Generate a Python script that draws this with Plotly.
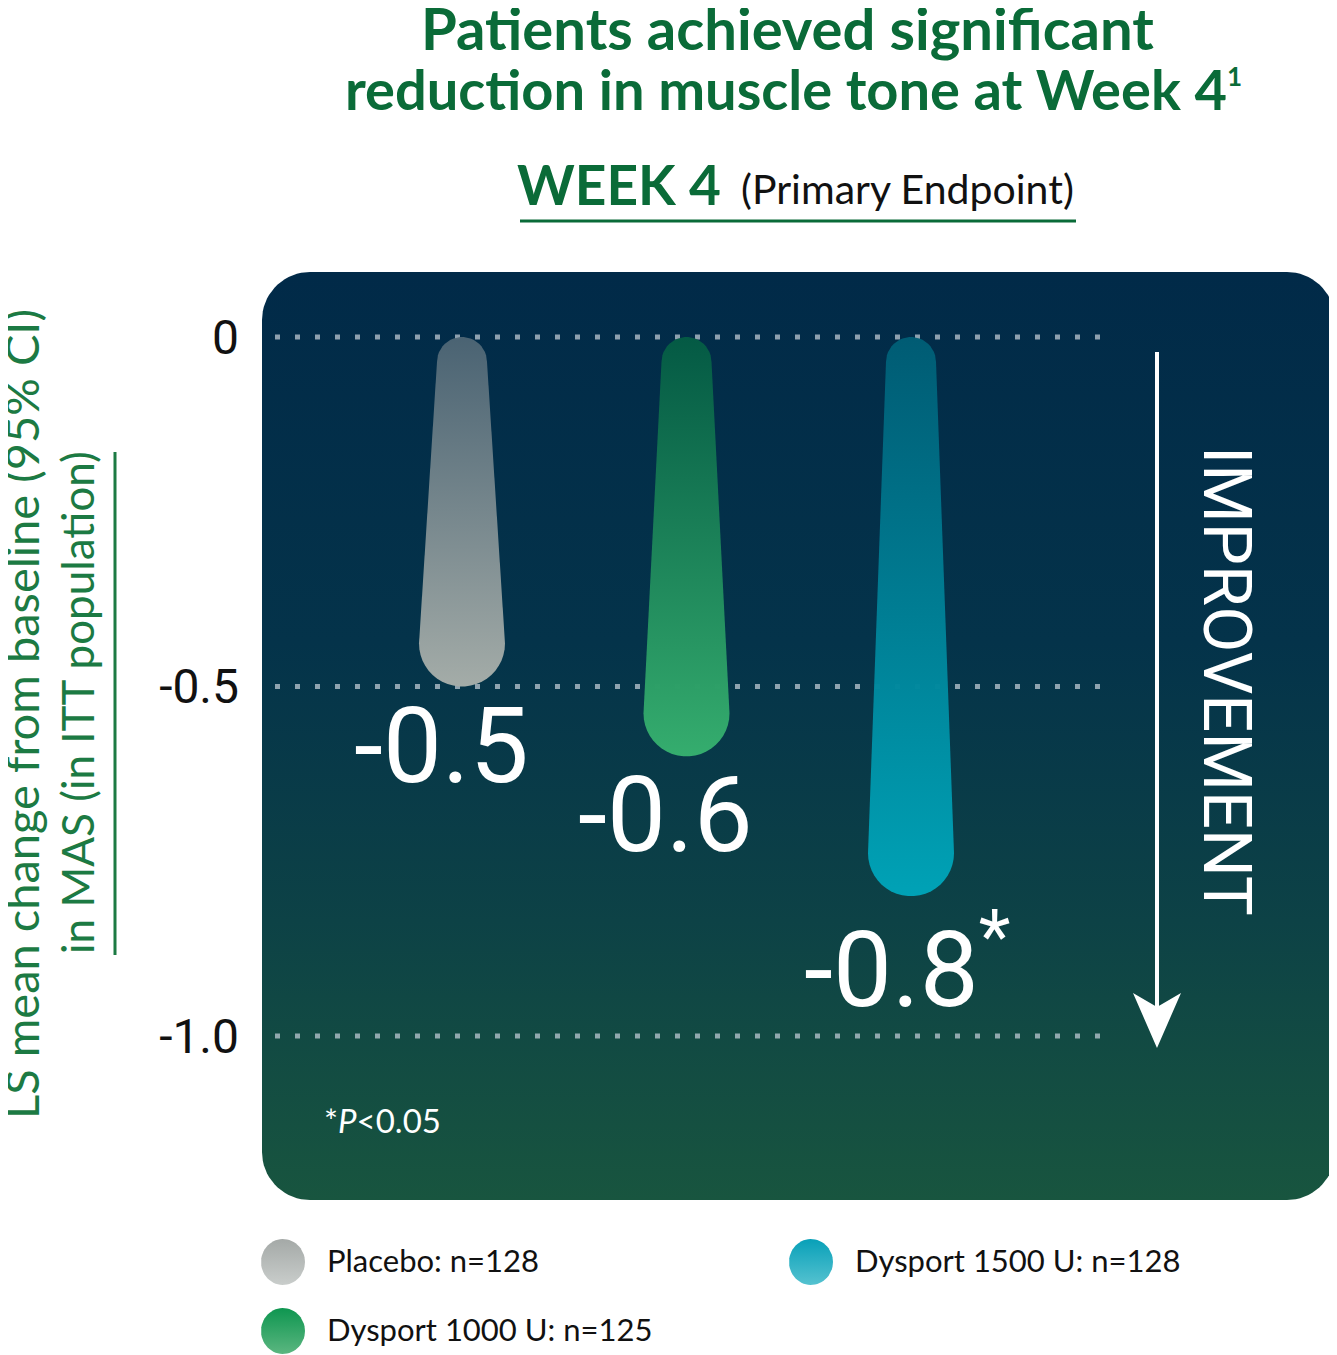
import numpy as np
import plotly.graph_objects as go

# data
groups = ["Placebo", "Dysport 1000 U", "Dysport 1500 U"]
n_patients = [128, 125, 128]
ls_mean_change = [-0.5, -0.6, -0.8]
significant = [False, False, True]
y_ticks = [0, -0.5, -1.0]
y_tick_labels = ["0", "-0.5", "-1.0"]

# styling
OFF = 8  # the page body margin; overlay axes use page pixels
W, H = 1337 - OFF, 1355 - OFF
GREEN = "#0a6b38"
AXIS_GREEN = "#1c7a43"
bar_top = ["rgba(78,102,117,0.95)", "rgba(4,92,68,0.95)", "rgba(0,94,118,0.95)"]
bar_bottom = ["#a4aca8", "#35ad6e", "#00a2b6"]
legend_top = ["#a4a9a7", "#0e9650", "#08a0b8"]
legend_bottom = ["#c9cdcb", "#5bb680", "#55c2d0"]
legend_pos = [(283, 1262), (283, 1331), (811, 1262)]

SANS = "Lato, Roboto, sans-serif"
NUM = "Roboto, Lato, sans-serif"

# where the panel sits on the page, and the y / x pixel scale
P_X0, P_X1, P_Y0, P_Y1 = 262, 1335, 272, 1200
ZERO_Y, PX_Y = 337, 699.0
FIRST_X, PX_X = 462, 224.5


def dx(p):
    return p / PX_X


def dy(p):
    return p / PX_Y


yr = [-(P_Y1 - ZERO_Y) / PX_Y, (ZERO_Y - P_Y0) / PX_Y]
xr = [(P_X0 - FIRST_X) / PX_X, (P_X1 - FIRST_X) / PX_X]


def rounded_rect(x0, x1, y0, y1, rx, ry, n=18):
    xs, ys = [], []
    for cx, cy, a0, a1 in [(x1 - rx, y1 - ry, 0, 90), (x0 + rx, y1 - ry, 90, 180),
                           (x0 + rx, y0 + ry, 180, 270), (x1 - rx, y0 + ry, 270, 360)]:
        t = np.radians(np.linspace(a0, a1, n))
        xs += list(cx + rx * np.cos(t))
        ys += list(cy + ry * np.sin(t))
    return xs + [xs[0]], ys + [ys[0]]


def bar_outline(i, v, n=24):
    # tapered drop: narrow round cap at 0, wide round cap at the value
    rtx, rty, rbx, rby = dx(25), dy(25), dx(43), dy(43)
    ct, cb = -rty, v + rby
    t1 = np.radians(np.linspace(180, 0, n))
    t2 = np.radians(np.linspace(0, -180, n))
    xs = list(i + rtx * np.cos(t1)) + list(i + rbx * np.cos(t2))
    ys = list(ct + rty * np.sin(t1)) + list(cb + rby * np.sin(t2))
    return xs + [xs[0]], ys + [ys[0]]


fig = go.Figure()

# dark panel behind the bars
px_, py_ = rounded_rect(xr[0], xr[1], yr[0], yr[1], dx(48), dy(48))
fig.add_trace(go.Scatter(
    x=px_, y=py_, mode="lines", fill="toself", line=dict(width=0),
    fillgradient=dict(type="vertical", colorscale=[[0, "#18553f"], [0.3, "#0d4246"],
                                                   [0.6, "#04334a"], [1, "#012a48"]]),
    hoverinfo="skip", showlegend=False))

# dotted reference lines
for t in y_ticks:
    fig.add_trace(go.Scatter(
        x=[dx(275 - FIRST_X), dx(1100 - FIRST_X)], y=[t, t], mode="lines",
        line=dict(color="rgba(190,200,210,0.75)", width=5, dash="5px,15px"),
        hoverinfo="skip", showlegend=False))

# bars
for i, (g, v) in enumerate(zip(groups, ls_mean_change)):
    bx, by = bar_outline(i, v)
    fig.add_trace(go.Scatter(
        x=bx, y=by, mode="lines", fill="toself", line=dict(width=0), name=g,
        fillgradient=dict(type="vertical", colorscale=[[0, bar_bottom[i]], [1, bar_top[i]]]),
        hoverinfo="skip", showlegend=False))

# legend spots, drawn on a page-pixel overlay
for i, g in enumerate(groups):
    cx, cy = legend_pos[i]
    t = np.radians(np.linspace(0, 360, 60))
    fig.add_trace(go.Scatter(
        x=cx + 22 * np.cos(t), y=cy + 23 * np.sin(t), mode="lines", fill="toself",
        line=dict(width=0), xaxis="x2", yaxis="y2",
        fillgradient=dict(type="vertical", colorscale=[[0, legend_bottom[i]], [1, legend_top[i]]]),
        hoverinfo="skip", showlegend=False))

ann = []


def page_text(text, x, y, size, color, family=SANS, **kw):
    d = dict(text=text, x=x, y=y, xref="x2", yref="y2", showarrow=False,
             font=dict(size=size, color=color, family=family))
    d.update(kw)
    ann.append(d)


# value labels under each bar
for i, v in enumerate(ls_mean_change):
    label = f"{v:.1f}" + ("<sup>*</sup>" if significant[i] else "")
    ann.append(dict(text=label, x=i, y=v, xref="x", yref="y", showarrow=False,
                    yanchor="top", yshift=4, xshift=-21 + (17 if significant[i] else 0),
                    font=dict(size=105, color="white", family=NUM)))

# legend text
for i, g in enumerate(groups):
    cx, cy = legend_pos[i]
    page_text(f"{g}: n={n_patients[i]}", cx + 42, cy - 2, 31, "#111111", xanchor="left")

# titles
page_text("<b>Patients achieved significant</b>", 787, 27, 58, GREEN)
page_text("<b>reduction in muscle tone at Week 4</b><sup><span style='font-size:26px'><b>1</b></span></sup>",
          793, 88, 56, GREEN)
page_text("<b>WEEK 4</b>", 515, 184, 55, GREEN, xanchor="left")
page_text("(Primary Endpoint)", 739, 188, 41, "#111111", xanchor="left")

# y axis title
page_text("LS mean change from baseline (95% CI)", 21, 714, 47, AXIS_GREEN, textangle=-90)
page_text("in MAS (in ITT population)", 77, 703, 44, AXIS_GREEN, textangle=-90)

# improvement label
page_text("IMPROVEMENT", 1227, 681, 67, "white", family=NUM, textangle=90)

page_text("*<i>P</i>&lt;0.05", 322, 1120, 33, "white", xanchor="left")

fig.update_layout(
    width=W, height=H, margin=dict(l=0, r=0, t=0, b=0),
    paper_bgcolor="white", plot_bgcolor="rgba(0,0,0,0)", hovermode=False,
    annotations=ann,
    shapes=[
        dict(type="line", xref="x2", yref="y2", x0=520, x1=1076, y0=221, y1=221,
             line=dict(color=GREEN, width=3)),
        dict(type="line", xref="x2", yref="y2", x0=115, x1=115, y0=452, y1=955,
             line=dict(color=AXIS_GREEN, width=3)),
        # improvement arrow
        dict(type="line", xref="x2", yref="y2", x0=1157, x1=1157, y0=352, y1=1010,
             line=dict(color="white", width=4)),
        dict(type="path", xref="x2", yref="y2",
             path="M1133,993 L1157,1048 L1181,993 L1157,1007 Z",
             fillcolor="white", line=dict(width=0)),
    ],
    xaxis=dict(domain=[(P_X0 - OFF) / W, (P_X1 - OFF) / W], range=xr, visible=False,
               fixedrange=True),
    yaxis=dict(domain=[1 - (P_Y1 - OFF) / H, 1 - (P_Y0 - OFF) / H], range=yr,
               tickvals=y_ticks, ticktext=y_tick_labels, showgrid=False, zeroline=False,
               showline=False, ticks="", ticklabelstandoff=22, fixedrange=True,
               tickfont=dict(size=48, color="#111111", family=NUM)),
    xaxis2=dict(domain=[0, 1], range=[OFF, W + OFF], visible=False, fixedrange=True),
    yaxis2=dict(domain=[0, 1], range=[H + OFF, OFF], visible=False, fixedrange=True),
)

fig.write_html("out.html")
